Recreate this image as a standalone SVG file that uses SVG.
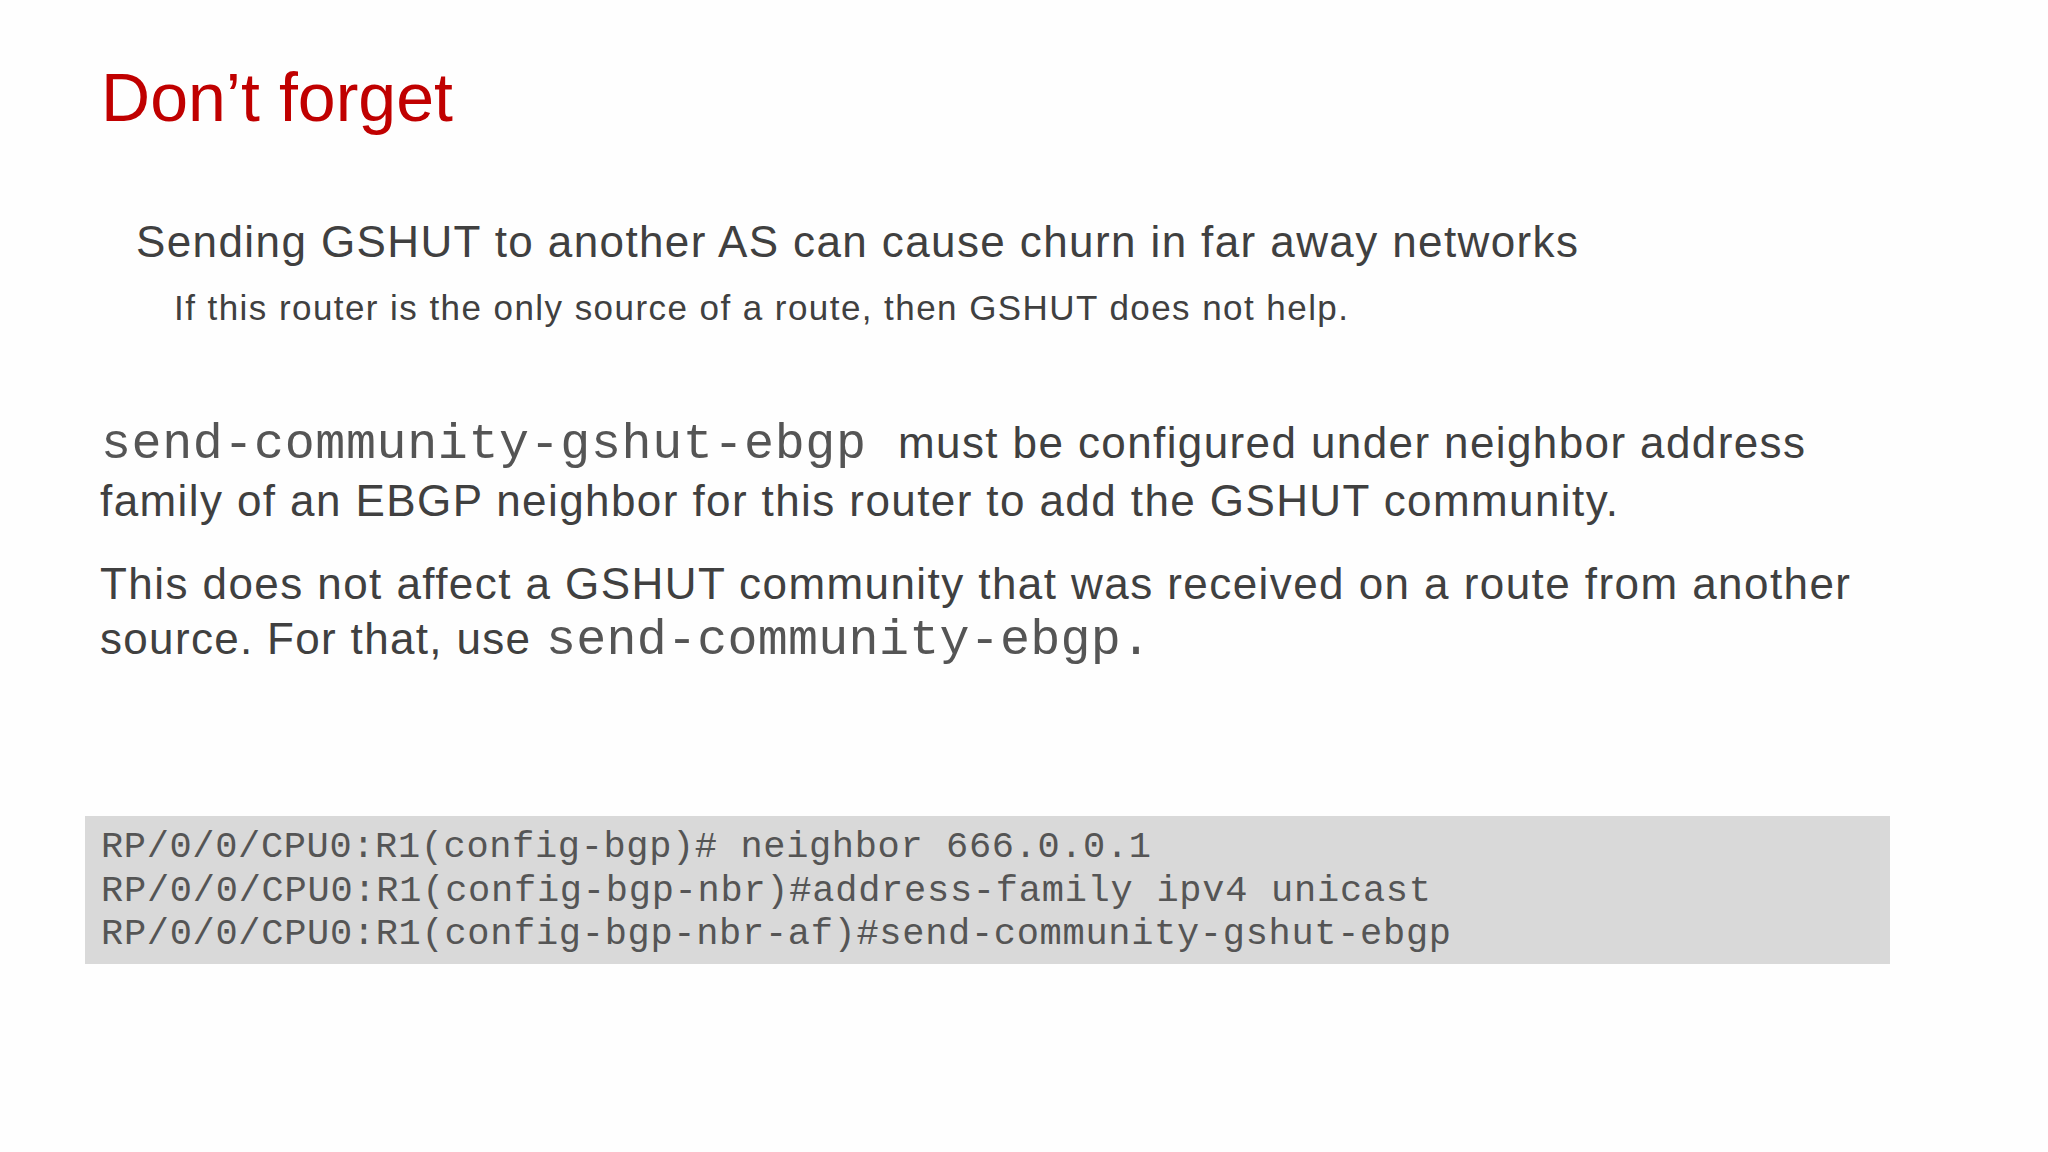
<svg xmlns="http://www.w3.org/2000/svg" width="2048" height="1152" viewBox="0 0 2048 1152">
<style>
.s{font-family:"Liberation Sans",Arial,sans-serif;fill:#404040}
.m{font-family:"Liberation Mono","Courier New",monospace;fill:#555}
</style>
<rect width="2048" height="1152" fill="#fefefe"/>
<g id="title"><text x="101" y="121" font-family="Liberation Sans,Arial,sans-serif" font-size="68" fill="#c00000" textLength="352">Don’t forget</text></g>
<g id="bullets">
<text class="s" x="136" y="257" font-size="44" textLength="1442">Sending GSHUT to another AS can cause churn in far away networks</text>
<text class="s" x="174" y="320" font-size="35" textLength="1174">If this router is the only source of a route, then GSHUT does not help.</text>
<text class="m" x="101" y="458" font-size="50" fill="#505050" textLength="765">send-community-gshut-ebgp</text>
<text class="s" x="898" y="458" font-size="44" textLength="907">must be configured under neighbor address</text>
<text class="s" x="100" y="516" font-size="44" textLength="1518">family of an EBGP neighbor for this router to add the GSHUT community.</text>
<text class="s" x="100" y="599" font-size="44" textLength="1750">This does not affect a GSHUT community that was received on a route from another</text>
<text class="s" x="100" y="654" font-size="44" textLength="430">source. For that, use</text>
<text class="m" x="546" y="654" font-size="50" textLength="605">send-community-ebgp.</text>
</g>
<g id="code">
<rect x="85" y="816" width="1805" height="148" fill="#d9d9d9"/>
<text class="m" x="101" y="857" font-size="37" textLength="1050">RP/0/0/CPU0:R1(config-bgp)# neighbor 666.0.0.1</text>
<text class="m" x="101" y="901" font-size="37" textLength="1330">RP/0/0/CPU0:R1(config-bgp-nbr)#address-family ipv4 unicast</text>
<text class="m" x="101" y="944" font-size="37" textLength="1350">RP/0/0/CPU0:R1(config-bgp-nbr-af)#send-community-gshut-ebgp</text>
</g>
</svg>
